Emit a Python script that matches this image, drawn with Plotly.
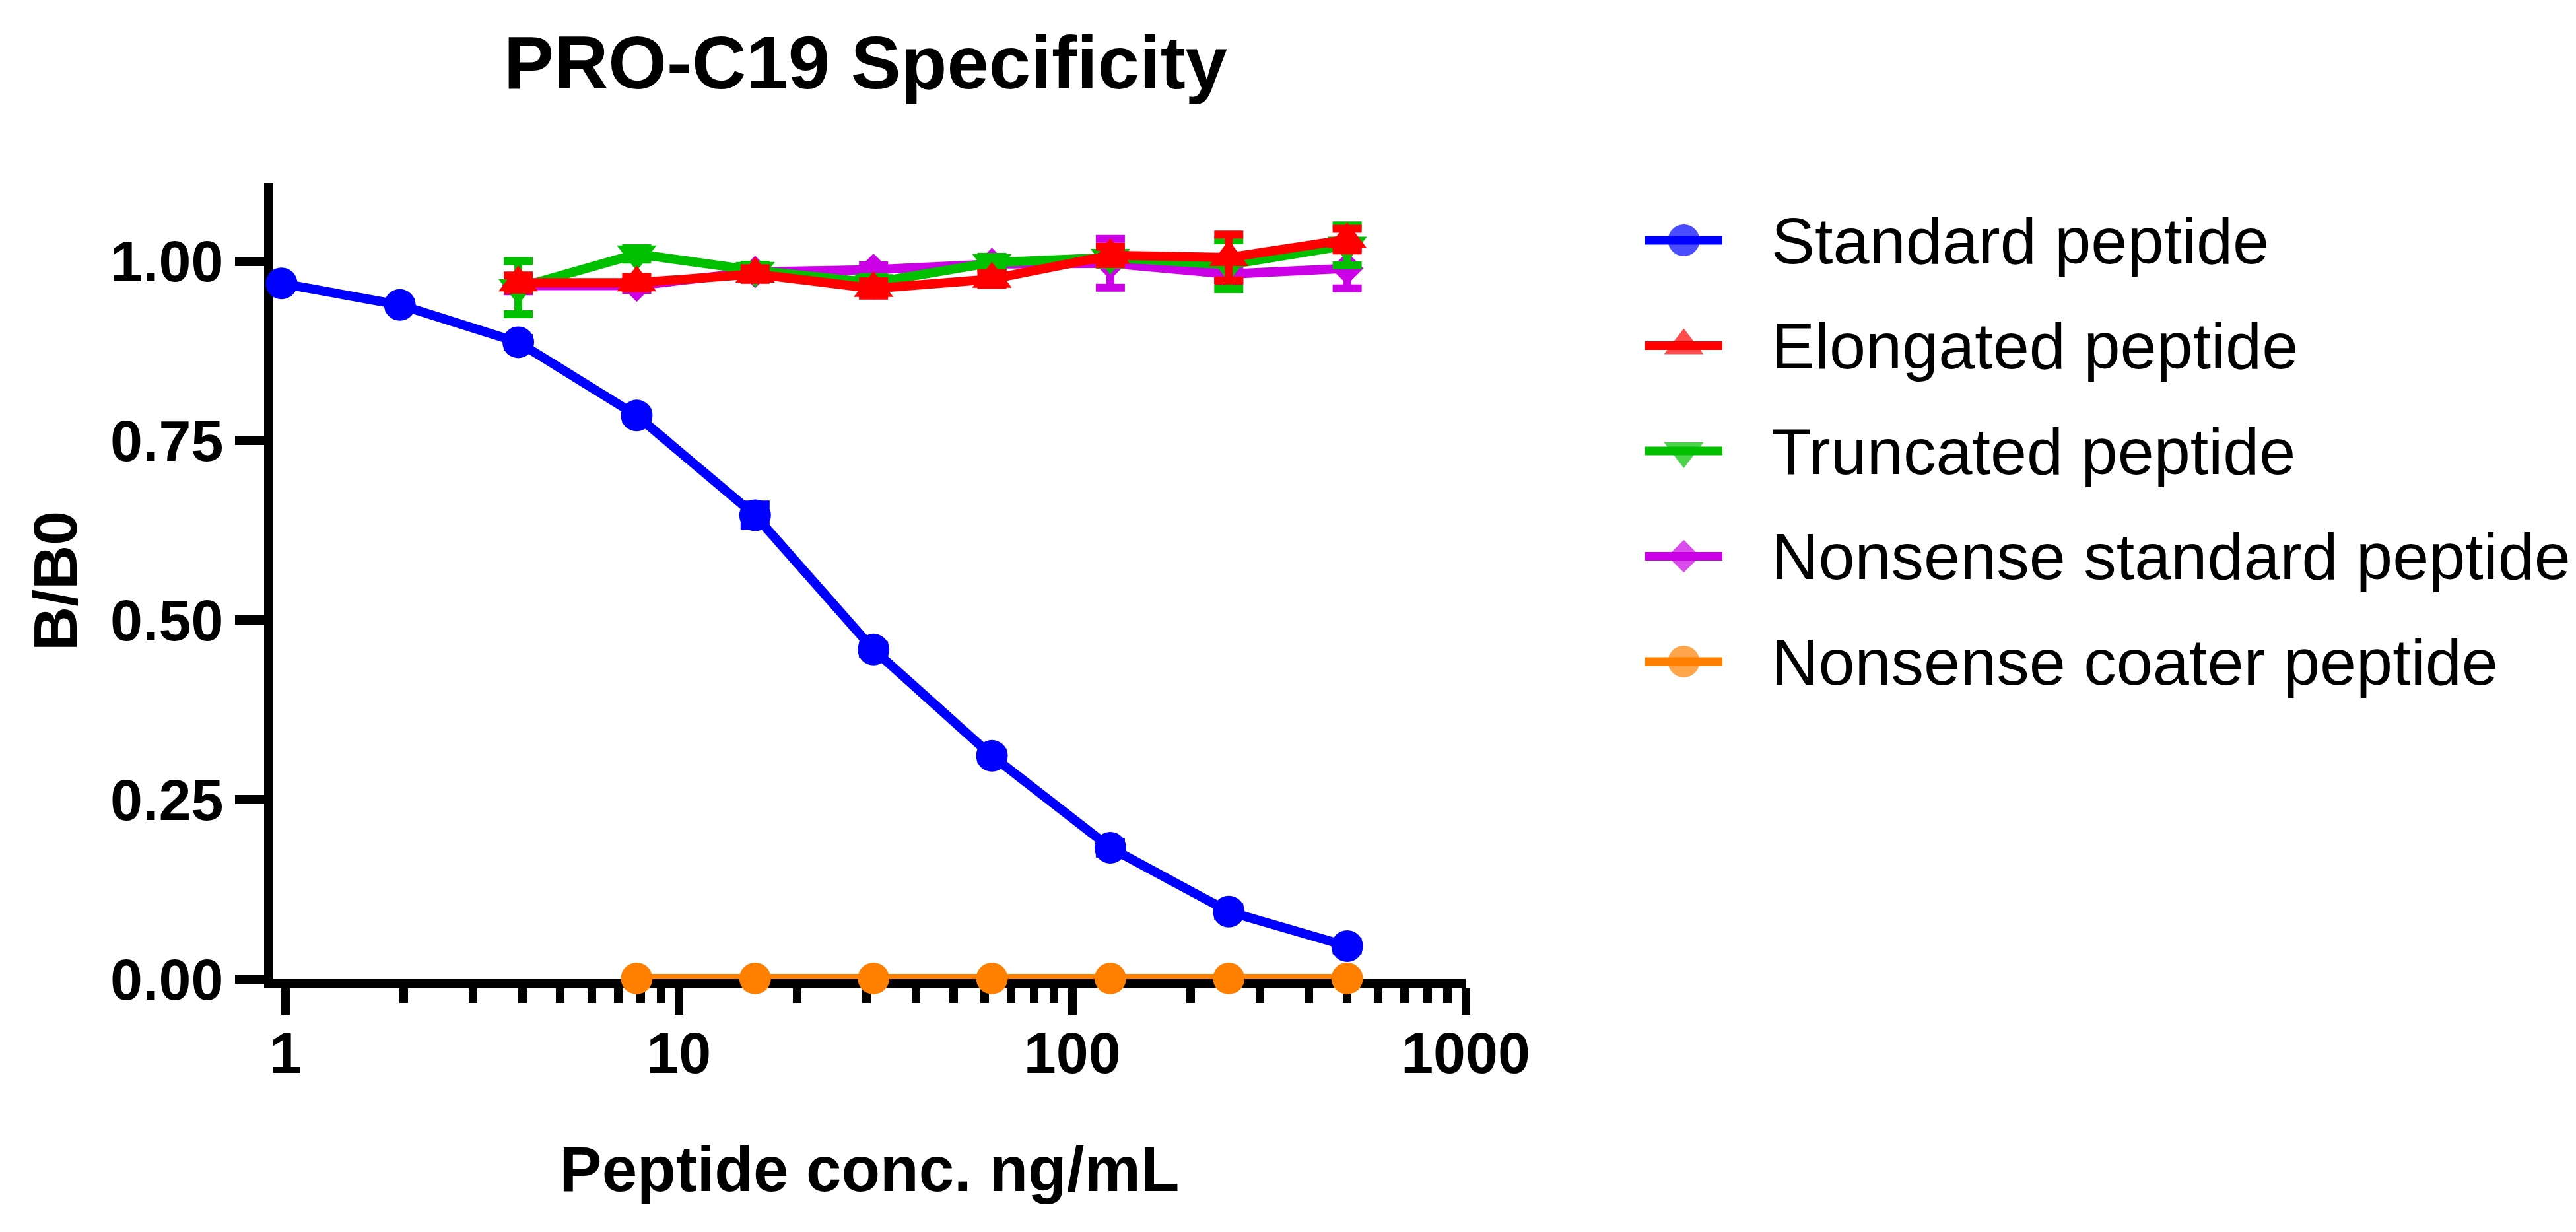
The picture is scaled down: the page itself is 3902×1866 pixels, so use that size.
import plotly.graph_objects as go

# concentrations (ng/mL), two-fold dilution series
conc = [0.977, 1.953, 3.906, 7.8125, 15.625, 31.25, 62.5, 125, 250, 500]

standard = [0.969, 0.939, 0.887, 0.785, 0.646, 0.459, 0.311, 0.183, 0.094, 0.046]
standard_err = [0.004, 0.004, 0.006, 0.005, 0.015, 0.006, 0.005, 0.008, 0.006, 0.006]

elongated = [0.970, 0.970, 0.982, 0.962, 0.975, 1.008, 1.005, 1.030]
elongated_err = [0.010, 0.008, 0.008, 0.010, 0.008, 0.012, 0.032, 0.015]

truncated = [0.963, 1.010, 0.987, 0.970, 0.998, 1.005, 0.995, 1.022]
truncated_err = [0.037, 0.008, 0.008, 0.008, 0.008, 0.010, 0.034, 0.028]

nonsense_std = [0.966, 0.966, 0.985, 0.988, 0.996, 0.997, 0.982, 0.990]
nonsense_std_err = [0.008, 0.006, 0.006, 0.006, 0.006, 0.034, 0.008, 0.028]

nonsense_coat = [0.001, 0.001, 0.001, 0.001, 0.001, 0.001, 0.001]
nonsense_coat_err = [0.002, 0.002, 0.002, 0.002, 0.002, 0.002, 0.002]

x_ticks = [1, 10, 100, 1000]
y_ticks = [0, 0.25, 0.5, 0.75, 1.0]

FONT = "Liberation Sans"

# name, x, y, err, color, symbol, size
series = [
    ("Standard peptide", conc, standard, standard_err, "#0000FF", "circle", 48),
    ("Elongated peptide", conc[2:], elongated, elongated_err, "#FF0000", "triangle-up", 52),
    ("Truncated peptide", conc[2:], truncated, truncated_err, "#00C000", "triangle-down", 52),
    ("Nonsense standard peptide", conc[2:], nonsense_std, nonsense_std_err, "#CC00E6", "diamond", 38),
    ("Nonsense coater peptide", conc[3:], nonsense_coat, nonsense_coat_err, "#FF8000", "circle", 48),
]
draw_order = [3, 2, 1, 0, 4]

W, H = 3902, 1866
L, R, T, B = 406, 20, 269, 391
PW = W - L - R
PH = H - T - B
AX_W = 1806

fig = go.Figure()

for i in draw_order:
    name, xs, ys, err, color, symbol, size = series[i]
    fig.add_trace(
        go.Scatter(
            x=xs,
            y=ys,
            mode="lines+markers",
            name=name,
            line={"color": color, "width": 14},
            marker={"color": color, "symbol": symbol, "size": size, "line": {"width": 0}},
            error_y={"type": "data", "array": err, "color": color, "thickness": 12, "width": 22},
            cliponaxis=False,
            showlegend=False,
        )
    )

# hand-drawn legend on a pixel-based overlay axis
LEG_X0, LEG_X1, LEG_TEXT_X = 2078, 2195, 2267
LEG_Y0, LEG_DY = 87, 159.5
for i, (name, xs, ys, err, color, symbol, size) in enumerate(series):
    yy = LEG_Y0 + LEG_DY * i
    fig.add_trace(
        go.Scatter(
            x=[LEG_X0, (LEG_X0 + LEG_X1) / 2, LEG_X1],
            y=[yy, yy, yy],
            xaxis="x2",
            yaxis="y2",
            mode="lines+markers",
            line={"color": color, "width": 13},
            marker={"color": color, "symbol": symbol, "size": [0, size, 0], "line": {"width": 0}},
            hoverinfo="skip",
            showlegend=False,
            cliponaxis=False,
        )
    )
    fig.add_annotation(
        x=LEG_TEXT_X,
        y=yy,
        xref="x2",
        yref="y2",
        text=name,
        showarrow=False,
        xanchor="left",
        yanchor="middle",
        font={"family": FONT, "size": 99, "color": "black"},
    )

fig.update_layout(
    width=W,
    height=H,
    margin={"l": L, "r": R, "t": T, "b": B, "autoexpand": False},
    paper_bgcolor="white",
    plot_bgcolor="rgba(0,0,0,0)",
    font={"family": FONT, "color": "black"},
    title={
        "text": "<b>PRO-C19 Specificity</b>",
        "x": (AX_W / 2 - 6) / PW,
        "xref": "paper",
        "xanchor": "center",
        "y": 1 - 86 / H,
        "yref": "container",
        "yanchor": "middle",
        "font": {"family": FONT, "size": 114, "color": "black"},
    },
    xaxis={
        "type": "log",
        "domain": [0, AX_W / PW],
        "range": [-0.031, 3.0],
        "automargin": False,
        "tickvals": x_ticks,
        "ticktext": [str(v) for v in x_ticks],
        "ticks": "outside",
        "ticklen": 40,
        "tickwidth": 13,
        "tickcolor": "black",
        "ticklabelstandoff": -18,
        "minor": {
            "tickvals": [m * 10 ** e for e in range(3) for m in range(2, 10)],
            "ticks": "outside",
            "ticklen": 22,
            "tickwidth": 13,
            "tickcolor": "black",
            "showgrid": False,
        },
        "showline": True,
        "linewidth": 14,
        "linecolor": "black",
        "showgrid": False,
        "zeroline": False,
        "layer": "below traces",
        "tickfont": {"family": FONT, "size": 88, "color": "black", "weight": "bold"},
        "title": {
            "text": "<b>Peptide conc. ng/mL</b>",
            "font": {"family": FONT, "size": 96, "color": "black"},
            "standoff": 100,
        },
    },
    yaxis={
        "range": [0, 1.109],
        "automargin": False,
        "tickvals": y_ticks,
        "tickformat": ".2f",
        "ticks": "outside",
        "ticklen": 44,
        "tickwidth": 14,
        "tickcolor": "black",
        "showline": True,
        "linewidth": 14,
        "linecolor": "black",
        "showgrid": False,
        "zeroline": False,
        "layer": "below traces",
        "tickfont": {"family": FONT, "size": 88, "color": "black", "weight": "bold"},
        "title": {
            "text": "<b>B/B0</b>",
            "font": {"family": FONT, "size": 93, "color": "black"},
            "standoff": 26,
        },
    },
    xaxis2={"domain": [0, 1], "range": [0, PW], "visible": False, "fixedrange": True,
            "anchor": "y2", "automargin": False},
    yaxis2={"domain": [0, 1], "range": [PH, 0], "visible": False, "fixedrange": True,
            "anchor": "x2", "automargin": False},
)

fig.write_html("out.html")
